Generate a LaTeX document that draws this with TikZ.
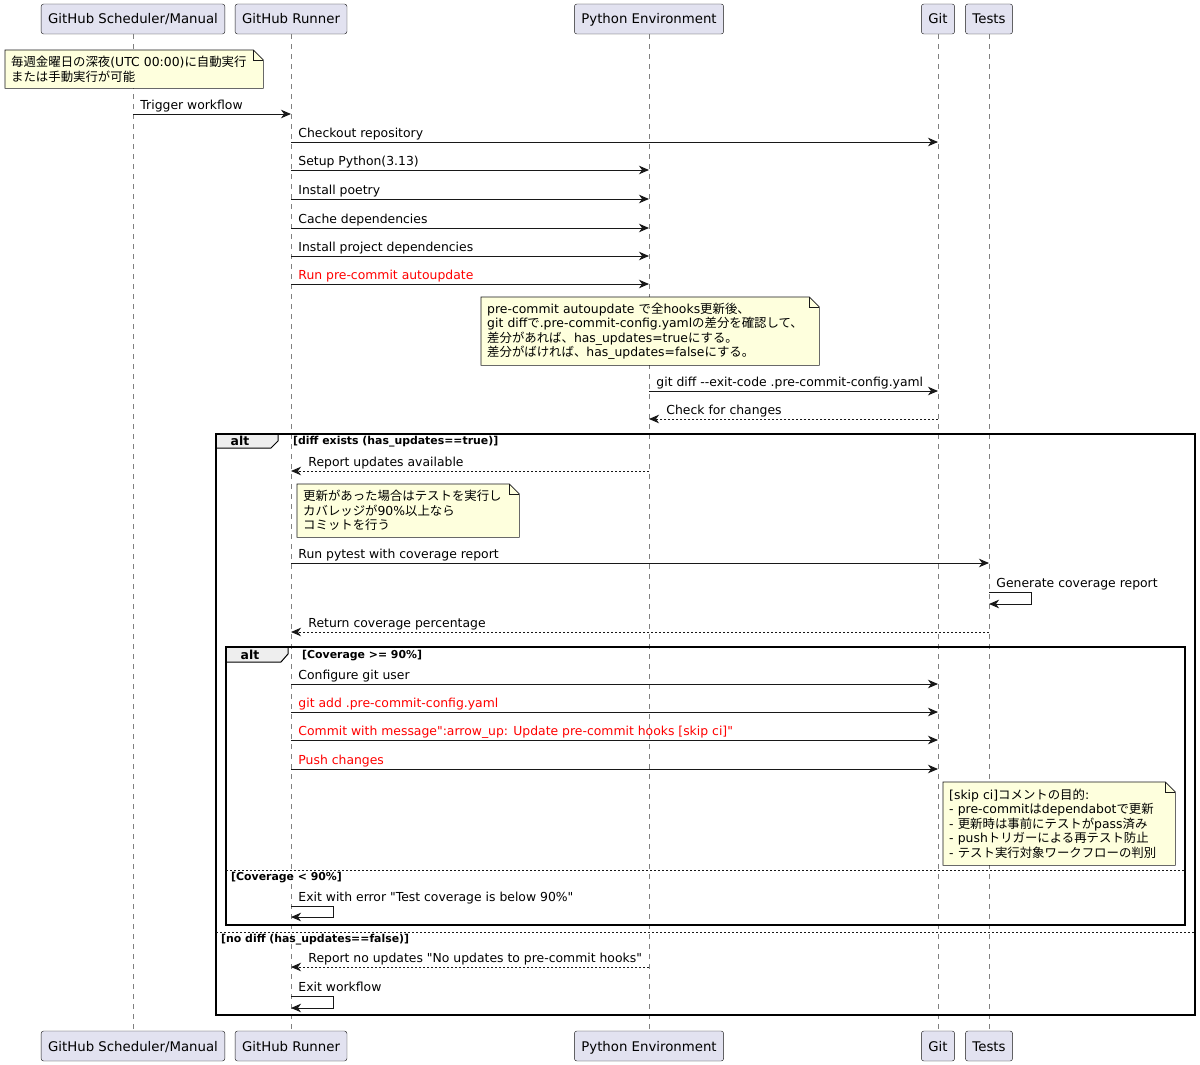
\documentclass[tikz,border=0pt]{standalone}
\usepackage{fontspec}
\newfontfamily\dejavu{DejaVu Sans}
\newfontfamily\cjk{Noto Sans CJK JP}
\usetikzlibrary{arrows.meta}

\definecolor{partfill}{HTML}{E2E2F0}
\definecolor{notefill}{HTML}{FEFFDD}
\definecolor{tabfill}{HTML}{EEEEEE}
\definecolor{linegray}{HTML}{181818}

\tikzset{
  part/.style={draw=linegray, fill=partfill, rounded corners=2.5pt, minimum height=30pt, inner xsep=7pt, text height=12pt, text depth=2pt, font=\dejavu\fontsize{13.3}{16}\selectfont},
  lifeline/.style={draw=linegray!55, line width=0.6pt, dash pattern=on 5pt off 5pt},
  msg/.style={draw=linegray, line width=0.9pt, -{Stealth[length=10pt,width=8.5pt,inset=3pt]}},
  ret/.style={msg, dash pattern=on 2pt off 2pt},
  lbl/.style={anchor=base west, inner sep=0pt, xshift=7pt, yshift=4.5pt, font=\dejavu\fontsize{12.4}{15}\selectfont},
  rlbl/.style={lbl, xshift=10pt},
  memo/.style={anchor=north west, fill=notefill, inner xsep=6pt, inner ysep=0pt, align=left, font=\dejavu\fontsize{12.4}{14.5}\selectfont},
  notedraw/.style={draw=linegray, line width=0.6pt},
  altframe/.style={draw=black, line width=1.5pt},
  alttab/.style={draw=black, line width=1pt, fill=tabfill},
  altname/.style={inner sep=0pt, font=\dejavu\bfseries\fontsize{12.4}{15}\selectfont},
  divider/.style={draw=linegray, line width=0.8pt, dash pattern=on 2pt off 2pt},
  guard/.style={anchor=west, inner sep=0pt, yshift=-1pt, font=\dejavu\bfseries\fontsize{10.9}{12}\selectfont},
}

% Japanese part of a note
\newcommand{\jp}[1]{{\cjk #1}}

% folded corner of a note
\newcommand{\notefold}[1]{%
  \fill[white] ([xshift=-10pt]#1.north east) -- (#1.north east) -- ([yshift=-10pt]#1.north east) -- cycle;
  \draw[notedraw] (#1.north west) -- ([xshift=-10pt]#1.north east) -- ([yshift=-10pt]#1.north east) -- (#1.south east) -- (#1.south west) -- cycle;
  \draw[notedraw] ([xshift=-10pt]#1.north east) |- ([yshift=-10pt]#1.north east);}

\begin{document}
\begin{tikzpicture}[x=1pt, y=-1pt]

    \useasboundingbox (0,0) rectangle (1200,1065);

    % Participants at the top
    \node[part] (sched) at (133,19) {GitHub Scheduler/Manual};
    \node[part] (runner) at (291,19) {GitHub Runner};
    \node[part] (python) at (649,19) {Python Environment};
    \node[part] (git) at (938,19) {Git};
    \node[part] (tests) at (989,19) {Tests};

    % Participants at the bottom
    \node[part] (sched-b) at (133,1046) {GitHub Scheduler/Manual};
    \node[part] (runner-b) at (291,1046) {GitHub Runner};
    \node[part] (python-b) at (649,1046) {Python Environment};
    \node[part] (git-b) at (938,1046) {Git};
    \node[part] (tests-b) at (989,1046) {Tests};

    % Lifelines
    \draw[lifeline] (sched) -- (sched-b);
    \draw[lifeline] (runner) -- (runner-b);
    \draw[lifeline] (python) -- (python-b);
    \draw[lifeline] (git) -- (git-b);
    \draw[lifeline] (tests) -- (tests-b);

    % Rows of the messages
    \coordinate (trig) at (0,114);
    \coordinate (checkout) at (0,142);
    \coordinate (setup) at (0,170);
    \coordinate (poetry) at (0,199);
    \coordinate (cache) at (0,228);
    \coordinate (deps) at (0,256);
    \coordinate (autoup) at (0,284);
    \coordinate (diff) at (0,391);
    \coordinate (chk) at (0,419);
    \coordinate (avail) at (0,471);
    \coordinate (pytest) at (0,563);
    \coordinate (gen) at (0,592);
    \coordinate (cov) at (0,632);
    \coordinate (user) at (0,684);
    \coordinate (add) at (0,712);
    \coordinate (commit) at (0,740);
    \coordinate (push) at (0,769);
    \coordinate (err) at (0,906);
    \coordinate (noup) at (0,967);
    \coordinate (exit) at (0,996);

    % Note on the schedule
    \node[memo, text width=246pt, minimum height=38pt] (note-sched) at (5,50)
      {\jp{毎週金曜日の深夜}(UTC 00:00)\jp{に自動実行}\\\jp{または手動実行が可能}};
    \notefold{note-sched}

    % Setup steps
    \draw[msg] (sched |- trig) -- (runner |- trig) node[lbl, pos=0] {Trigger workflow};
    \draw[msg] (runner |- checkout) -- (git |- checkout) node[lbl, pos=0] {Checkout repository};
    \draw[msg] (runner |- setup) -- (python |- setup) node[lbl, pos=0] {Setup Python(3.13)};
    \draw[msg] (runner |- poetry) -- (python |- poetry) node[lbl, pos=0] {Install poetry};
    \draw[msg] (runner |- cache) -- (python |- cache) node[lbl, pos=0] {Cache dependencies};
    \draw[msg] (runner |- deps) -- (python |- deps) node[lbl, pos=0] {Install project dependencies};
    \draw[msg] (runner |- autoup) -- (python |- autoup) node[lbl, pos=0, red] {Run pre-commit autoupdate};

    % Note on the diff check
    \node[memo, text width=326pt, minimum height=68pt] (note-diff) at (481,297)
      {pre-commit autoupdate \jp{で全}hooks\jp{更新後、}\\
       git diff\jp{で}.pre-commit-config.yaml\jp{の差分を確認して、}\\
       \jp{差分があれば、}has\_updates=true\jp{にする。}\\
       \jp{差分がばければ、}has\_updates=false\jp{にする。}};
    \notefold{note-diff}

    \draw[msg] (python |- diff) -- (git |- diff) node[lbl, pos=0] {git diff --exit-code .pre-commit-config.yaml};
    \draw[ret] (git |- chk) -- (python |- chk) node[rlbl, pos=1] {Check for changes};

    % Outer alt
    \draw[alttab] (216,434) -- (278,434) -- (278,441) -- (271,448) -- (216,448) -- cycle;
    \draw[altframe] (216,434) rectangle (1195,1015);
    \node[altname] (alt-diff) at (240,441) {alt};
    \node[guard] (g-diff) at (293,441) {[diff exists (has\_updates==true)]};

    \draw[ret] (python |- avail) -- (runner |- avail) node[rlbl, pos=1] {Report updates available};

    % Note on the tests
    \node[memo, text width=210pt, minimum height=53pt] (note-test) at (297,484)
      {\jp{更新があった場合はテストを実行し}\\\jp{カバレッジが}90\%\jp{以上なら}\\\jp{コミットを行う}};
    \notefold{note-test}

    \draw[msg] (runner |- pytest) -- (tests |- pytest) node[lbl, pos=0] {Run pytest with coverage report};
    \draw[msg] (tests |- gen) node[lbl] {Generate coverage report} -- ++(42,0) -- ++(0,12) -- ++(-42,0);
    \draw[ret] (tests |- cov) -- (runner |- cov) node[rlbl, pos=1] {Return coverage percentage};

    % Inner alt
    \draw[alttab] (226,647) -- (288,647) -- (288,654) -- (281,662) -- (226,662) -- cycle;
    \draw[altframe] (226,647) rectangle (1185,925);
    \node[altname] (alt-cov) at (250,655) {alt};
    \node[guard] (g-cov) at (302,655) {[Coverage >= 90\%]};

    \draw[msg] (runner |- user) -- (git |- user) node[lbl, pos=0] {Configure git user};
    \draw[msg] (runner |- add) -- (git |- add) node[lbl, pos=0, red] {git add .pre-commit-config.yaml};
    \draw[msg] (runner |- commit) -- (git |- commit) node[lbl, pos=0, red] {Commit with message":arrow\_up: Update pre-commit hooks [skip ci]"};
    \draw[msg] (runner |- push) -- (git |- push) node[lbl, pos=0, red] {Push changes};

    % Note on skip ci
    \node[memo, text width=220pt, minimum height=83pt] (note-skip) at (943,782)
      {[skip ci]\jp{コメントの目的}:\\
       - pre-commit\jp{は}dependabot\jp{で更新}\\
       - \jp{更新時は事前にテストが}pass\jp{済み}\\
       - push\jp{トリガーによる再テスト防止}\\
       - \jp{テスト実行対象ワークフローの判別}};
    \notefold{note-skip}

    % Else of the inner alt
    \draw[divider] (226,870) -- (1185,870);
    \node[guard] (g-low) at (231,877) {[Coverage < 90\%]};
    \draw[msg] (runner |- err) node[lbl] {Exit with error "Test coverage is below 90\%"} -- ++(42,0) -- ++(0,11) -- ++(-42,0);

    % Else of the outer alt
    \draw[divider] (216,932) -- (1195,932);
    \node[guard] (g-nodiff) at (221,939) {[no diff (has\_updates==false)]};
    \draw[ret] (python |- noup) -- (runner |- noup) node[rlbl, pos=1] {Report no updates "No updates to pre-commit hooks"};
    \draw[msg] (runner |- exit) node[lbl] {Exit workflow} -- ++(42,0) -- ++(0,12) -- ++(-42,0);

\end{tikzpicture}
\end{document}
